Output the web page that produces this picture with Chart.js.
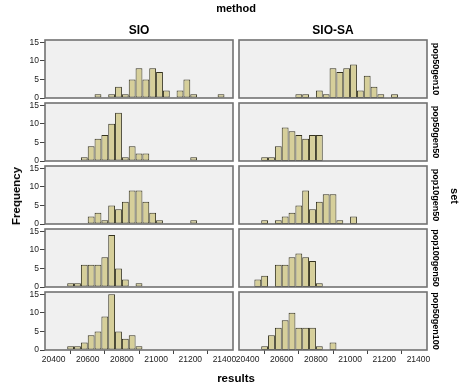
<!DOCTYPE html>
<html>
<head>
<meta charset="utf-8">
<script src="https://cdn.jsdelivr.net/npm/chart.js@4.4.0/dist/chart.umd.min.js"></script>
<style>
  body { margin: 0; background: #fff; }
  #wrap { position: relative; width: 474px; height: 387px; overflow: hidden; font-family: "Liberation Sans", Arial, sans-serif; }
  #wrap canvas { position: absolute; }
  .lbl { position: absolute; font-weight: bold; color: #000; white-space: nowrap; transform: translate(-50%, -50%); }
</style>
</head>
<body>
<div id="wrap"></div>
<script>
// facets
const methods = ["SIO", "SIO-SA"];
const sets = ["pop50gen10", "pop50gen50", "pop10gen50", "pop100gen50", "pop50gen100"];

// histogram bins (centres, width 40)
const binCenters = [20460, 20500, 20540, 20580, 20620, 20660, 20700, 20740, 20780, 20820, 20860, 20900,
                    20940, 20980, 21020, 21060, 21100, 21140, 21180, 21220, 21260, 21300, 21340, 21380];
const xTicks = [20400, 20600, 20800, 21000, 21200, 21400];
const yTicks = [0, 5, 10, 15];

// frequencies per bin, SIO column
const sioPop50gen10  = [0,0,0,0,0,1,0,1,3,1,5,8,5,8,7,2,0,2,5,1,0,0,0,1];
const sioPop50gen50  = [0,0,0,1,4,6,7,10,13,1,4,2,2,0,0,0,0,0,0,1,0,0,0,0];
const sioPop10gen50  = [0,0,0,0,2,3,1,5,4,6,9,9,6,3,1,0,0,0,0,1,0,0,0,0];
const sioPop100gen50 = [0,1,1,6,6,6,8,14,5,2,0,1,0,0,0,0,0,0,0,0,0,0,0,0];
const sioPop50gen100 = [0,1,1,2,4,5,9,15,5,3,4,1,0,0,0,0,0,0,0,0,0,0,0,0];

// frequencies per bin, SIO-SA column
const saPop50gen10  = [0,0,0,0,0,0,1,1,0,2,1,8,7,8,9,2,6,3,1,0,1,0,0,0];
const saPop50gen50  = [0,1,1,4,9,8,7,6,7,7,0,0,0,0,0,0,0,0,0,0,0,0,0,0];
const saPop10gen50  = [0,1,0,1,2,3,5,9,4,6,8,8,1,0,2,0,0,0,0,0,0,0,0,0];
const saPop100gen50 = [2,3,0,6,6,8,9,8,7,1,0,0,0,0,0,0,0,0,0,0,0,0,0,0];
const saPop50gen100 = [0,1,4,6,8,10,6,6,6,1,0,2,0,0,0,0,0,0,0,0,0,0,0,0];

const counts = [
  [sioPop50gen10, sioPop50gen50, sioPop10gen50, sioPop100gen50, sioPop50gen100],
  [saPop50gen10, saPop50gen50, saPop10gen50, saPop100gen50, saPop50gen100]
];

const wrap = document.getElementById("wrap");
const FONT = '"Liberation Sans", Arial, sans-serif';

// panel layout
const panelLeft = [45, 239];
const panelTop = [40, 103, 166, 229, 292];
const panelW = 188, panelH = 58;

function label(text, x, y, size, rot) {
  const d = document.createElement("div");
  d.className = "lbl";
  d.textContent = text;
  d.style.left = x + "px";
  d.style.top = y + "px";
  d.style.fontSize = size + "px";
  if (rot) d.style.transform = "translate(-50%, -50%) rotate(" + rot + "deg)";
  wrap.appendChild(d);
}

const panelFrame = {
  id: "panelFrame",
  beforeDatasetsDraw(chart) {
    const { ctx, chartArea: a } = chart;
    ctx.save();
    ctx.fillStyle = "#f0f0f0";
    ctx.fillRect(a.left, a.top, a.width, a.height);
    ctx.restore();
  },
  afterDatasetsDraw(chart) {
    const { ctx, chartArea: a } = chart;
    ctx.save();
    ctx.strokeStyle = "#727272";
    ctx.lineWidth = 1.6;
    ctx.strokeRect(a.left, a.top, a.width, a.height);
    ctx.restore();
  }
};

const tickFont = { family: FONT, size: 8.5 };

function makePanel(row, col) {
  const showY = col === 0;
  const showX = row === sets.length - 1;
  const yW = showY ? 30 : 0;
  const xH = showX ? 18 : 0;
  const padL = showY ? 0 : 6, padR = 8, padT = 8, padB = showX ? 0 : 8;

  const canvas = document.createElement("canvas");
  const w = yW + padL + panelW + padR;
  const h = padT + panelH + xH + padB;
  canvas.width = w;
  canvas.height = h;
  canvas.style.width = w + "px";
  canvas.style.height = h + "px";
  canvas.style.left = (panelLeft[col] - yW - padL) + "px";
  canvas.style.top = (panelTop[row] - padT) + "px";
  wrap.appendChild(canvas);

  const values = counts[col][row];
  new Chart(canvas.getContext("2d"), {
    type: "bar",
    data: {
      datasets: [{
        data: binCenters.map((x, i) => ({ x: x, y: values[i] })),
        backgroundColor: "#d6cf9a",
        borderColor: "#35331f",
        borderWidth: 1,
        borderSkipped: false,
        inflateAmount: 0,
        barPercentage: 1,
        categoryPercentage: 1
      }]
    },
    options: {
      responsive: false,
      animation: false,
      devicePixelRatio: 1,
      layout: { padding: { left: padL, right: padR, top: padT, bottom: padB } },
      plugins: { legend: { display: false }, tooltip: { enabled: false } },
      scales: {
        x: {
          type: "linear",
          min: 20350,
          max: 21450,
          offset: false,
          display: showX,
          grid: { drawOnChartArea: false, tickLength: 4, color: "#444" },
          border: { display: false },
          ticks: { font: tickFont, color: "#222", padding: 1, autoSkip: false, maxRotation: 0,
                   callback: v => String(v) },
          afterBuildTicks: s => { s.ticks = xTicks.map(v => ({ value: v })); },
          afterFit: s => { s.height = xH; }
        },
        y: {
          min: 0,
          max: 15.6,
          display: showY,
          grid: { drawOnChartArea: false, tickLength: 5, color: "#444" },
          border: { display: false },
          ticks: { font: tickFont, color: "#222", padding: 1 },
          afterBuildTicks: s => { s.ticks = yTicks.map(v => ({ value: v })); },
          afterFit: s => { s.width = yW; }
        }
      }
    },
    plugins: [panelFrame]
  });
}

for (let c = 0; c < methods.length; c++) {
  for (let r = 0; r < sets.length; r++) makePanel(r, c);
}

// titles
label("method", 236, 8, 11);
methods.forEach((m, c) => label(m, panelLeft[c] + panelW / 2, 30, 12));
sets.forEach((s, r) => label(s, 436, panelTop[r] + panelH / 2, 9, 90));
label("set", 455, 196, 11, 90);
label("Frequency", 16, 196, 11.5, -90);
label("results", 236, 378, 11.5);
</script>
</body>
</html>
